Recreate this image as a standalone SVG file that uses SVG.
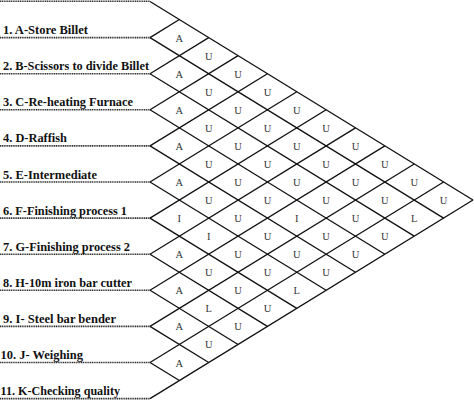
<svg xmlns="http://www.w3.org/2000/svg" width="474" height="400" viewBox="0 0 474 400">
<style>
.lbl{font-family:"Liberation Serif","Times New Roman",serif;font-weight:bold;font-size:13px;fill:#111}
.ul{stroke:#333;stroke-width:1.6;stroke-dasharray:1.2 0.6;fill:none}
.grid line{stroke:#111;stroke-width:1.3}
.c{font-family:"Liberation Serif","Times New Roman",serif;font-size:10.5px;fill:#333;text-anchor:middle}
</style>
<rect width="474" height="400" fill="#fff"/>
<g id="departments">
<line class="ul" x1="0" y1="1.2" x2="150" y2="1.2"/>
<g id="dept-A"><text class="lbl" x="3" y="34.1" textLength="85" lengthAdjust="spacingAndGlyphs">1. A-Store Billet</text><line class="ul" x1="0" y1="37.6" x2="150" y2="37.6"/></g>
<g id="dept-B"><text class="lbl" x="3" y="70.2" textLength="146" lengthAdjust="spacingAndGlyphs">2. B-Scissors to divide Billet</text><line class="ul" x1="0" y1="73.7" x2="150" y2="73.7"/></g>
<g id="dept-C"><text class="lbl" x="3" y="106.3" textLength="130" lengthAdjust="spacingAndGlyphs">3. C-Re-heating Furnace</text><line class="ul" x1="0" y1="109.8" x2="150" y2="109.8"/></g>
<g id="dept-D"><text class="lbl" x="3" y="142.4" textLength="64" lengthAdjust="spacingAndGlyphs">4. D-Raffish</text><line class="ul" x1="0" y1="145.9" x2="150" y2="145.9"/></g>
<g id="dept-E"><text class="lbl" x="3" y="178.5" textLength="94" lengthAdjust="spacingAndGlyphs">5. E-Intermediate</text><line class="ul" x1="0" y1="182" x2="150" y2="182"/></g>
<g id="dept-F"><text class="lbl" x="3" y="214.6" textLength="124" lengthAdjust="spacingAndGlyphs">6. F-Finishing process 1</text><line class="ul" x1="0" y1="218.1" x2="150" y2="218.1"/></g>
<g id="dept-G"><text class="lbl" x="3" y="250.7" textLength="127" lengthAdjust="spacingAndGlyphs">7. G-Finishing process 2</text><line class="ul" x1="0" y1="254.2" x2="150" y2="254.2"/></g>
<g id="dept-H"><text class="lbl" x="3" y="286.8" textLength="129" lengthAdjust="spacingAndGlyphs">8. H-10m iron bar cutter</text><line class="ul" x1="0" y1="290.3" x2="150" y2="290.3"/></g>
<g id="dept-I"><text class="lbl" x="3" y="322.9" textLength="113" lengthAdjust="spacingAndGlyphs">9. I- Steel bar bender</text><line class="ul" x1="0" y1="326.4" x2="150" y2="326.4"/></g>
<g id="dept-J"><text class="lbl" x="0.5" y="359" textLength="82.5" lengthAdjust="spacingAndGlyphs">10. J- Weighing</text><line class="ul" x1="0" y1="362.5" x2="150" y2="362.5"/></g>
<g id="dept-K"><text class="lbl" x="0.5" y="395.1" textLength="119.5" lengthAdjust="spacingAndGlyphs">11. K-Checking quality</text><line class="ul" x1="0" y1="398.6" x2="150" y2="398.6"/></g>
</g>
<g id="connectors" class="grid">
<line x1="150" y1="1.5" x2="472.96" y2="200.05"/>
<line x1="150" y1="37.6" x2="443.6" y2="218.1"/>
<line x1="150" y1="73.7" x2="414.24" y2="236.15"/>
<line x1="150" y1="109.8" x2="384.88" y2="254.2"/>
<line x1="150" y1="145.9" x2="355.52" y2="272.25"/>
<line x1="150" y1="182" x2="326.16" y2="290.3"/>
<line x1="150" y1="218.1" x2="296.8" y2="308.35"/>
<line x1="150" y1="254.2" x2="267.44" y2="326.4"/>
<line x1="150" y1="290.3" x2="238.08" y2="344.45"/>
<line x1="150" y1="326.4" x2="208.72" y2="362.5"/>
<line x1="150" y1="362.5" x2="179.36" y2="380.55"/>
<line x1="150" y1="37.6" x2="179.36" y2="19.55"/>
<line x1="150" y1="73.7" x2="208.72" y2="37.6"/>
<line x1="150" y1="109.8" x2="238.08" y2="55.65"/>
<line x1="150" y1="145.9" x2="267.44" y2="73.7"/>
<line x1="150" y1="182" x2="296.8" y2="91.75"/>
<line x1="150" y1="218.1" x2="326.16" y2="109.8"/>
<line x1="150" y1="254.2" x2="355.52" y2="127.85"/>
<line x1="150" y1="290.3" x2="384.88" y2="145.9"/>
<line x1="150" y1="326.4" x2="414.24" y2="163.95"/>
<line x1="150" y1="362.5" x2="443.6" y2="182"/>
<line x1="150" y1="398.6" x2="472.96" y2="200.05"/>
</g>
<g id="cells">
<text id="c1-2" class="c" x="179.36" y="41.6">A</text>
<text id="c2-3" class="c" x="179.36" y="77.7">A</text>
<text id="c3-4" class="c" x="179.36" y="113.8">A</text>
<text id="c4-5" class="c" x="179.36" y="149.9">A</text>
<text id="c5-6" class="c" x="179.36" y="186">A</text>
<text id="c6-7" class="c" x="179.36" y="222.1">I</text>
<text id="c7-8" class="c" x="179.36" y="258.2">A</text>
<text id="c8-9" class="c" x="179.36" y="294.3">A</text>
<text id="c9-10" class="c" x="179.36" y="330.4">A</text>
<text id="c10-11" class="c" x="179.36" y="366.5">A</text>
<text id="c1-3" class="c" x="208.72" y="59.65">U</text>
<text id="c2-4" class="c" x="208.72" y="95.75">U</text>
<text id="c3-5" class="c" x="208.72" y="131.85">U</text>
<text id="c4-6" class="c" x="208.72" y="167.95">U</text>
<text id="c5-7" class="c" x="208.72" y="204.05">U</text>
<text id="c6-8" class="c" x="208.72" y="240.15">I</text>
<text id="c7-9" class="c" x="208.72" y="276.25">U</text>
<text id="c8-10" class="c" x="208.72" y="312.35">L</text>
<text id="c9-11" class="c" x="208.72" y="348.45">U</text>
<text id="c1-4" class="c" x="238.08" y="77.7">U</text>
<text id="c2-5" class="c" x="238.08" y="113.8">U</text>
<text id="c3-6" class="c" x="238.08" y="149.9">U</text>
<text id="c4-7" class="c" x="238.08" y="186">U</text>
<text id="c5-8" class="c" x="238.08" y="222.1">U</text>
<text id="c6-9" class="c" x="238.08" y="258.2">U</text>
<text id="c7-10" class="c" x="238.08" y="294.3">U</text>
<text id="c8-11" class="c" x="238.08" y="330.4">U</text>
<text id="c1-5" class="c" x="267.44" y="95.75">U</text>
<text id="c2-6" class="c" x="267.44" y="131.85">U</text>
<text id="c3-7" class="c" x="267.44" y="167.95">U</text>
<text id="c4-8" class="c" x="267.44" y="204.05">U</text>
<text id="c5-9" class="c" x="267.44" y="240.15">U</text>
<text id="c6-10" class="c" x="267.44" y="276.25">U</text>
<text id="c7-11" class="c" x="267.44" y="312.35">U</text>
<text id="c1-6" class="c" x="296.8" y="113.8">U</text>
<text id="c2-7" class="c" x="296.8" y="149.9">U</text>
<text id="c3-8" class="c" x="296.8" y="186">U</text>
<text id="c4-9" class="c" x="296.8" y="222.1">I</text>
<text id="c5-10" class="c" x="296.8" y="258.2">U</text>
<text id="c6-11" class="c" x="296.8" y="294.3">L</text>
<text id="c1-7" class="c" x="326.16" y="131.85">U</text>
<text id="c2-8" class="c" x="326.16" y="167.95">U</text>
<text id="c3-9" class="c" x="326.16" y="204.05">U</text>
<text id="c4-10" class="c" x="326.16" y="240.15">U</text>
<text id="c5-11" class="c" x="326.16" y="276.25">U</text>
<text id="c1-8" class="c" x="355.52" y="149.9">U</text>
<text id="c2-9" class="c" x="355.52" y="186">U</text>
<text id="c3-10" class="c" x="355.52" y="222.1">U</text>
<text id="c4-11" class="c" x="355.52" y="258.2">U</text>
<text id="c1-9" class="c" x="384.88" y="167.95">U</text>
<text id="c2-10" class="c" x="384.88" y="204.05">U</text>
<text id="c3-11" class="c" x="384.88" y="240.15">U</text>
<text id="c1-10" class="c" x="414.24" y="186">U</text>
<text id="c2-11" class="c" x="414.24" y="222.1">L</text>
<text id="c1-11" class="c" x="443.6" y="204.05">U</text>
</g>
</svg>
